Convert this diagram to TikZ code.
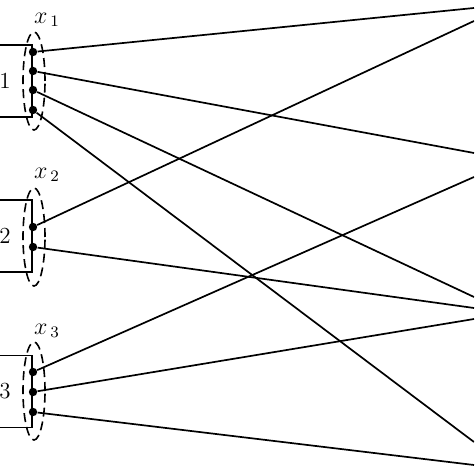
\documentclass[tikz,border=0pt]{standalone}
\usetikzlibrary{shapes.geometric}
\begin{document}
\begin{tikzpicture}[x=0.5pt,y=-0.5pt,
 font=\fontsize{11.5}{14}\selectfont,
 box/.style={draw, line width=0.85pt, minimum width=27pt, minimum height=36pt, inner sep=0pt},
 pin/.style={circle, fill, inner sep=0pt, minimum size=4.2pt},
 grp/.style={ellipse, draw, dash pattern=on 4.5pt off 2.5pt, line width=0.8pt, minimum width=11pt, minimum height=49pt, inner sep=0pt},
 wire/.style={line width=0.85pt},
 lab/.style={inner sep=0pt}]
\clip (0,0) rectangle (474,474);
% boxes
\node[box] (b1) at (5,81) {1};
\node[box] (b2) at (5,236) {2};
\node[box] (b3) at (5,391.5) {3};
% groups
\node[grp] (e1) at (34,81) {};
\node[grp] (e2) at (34,237) {};
\node[grp] (e3) at (34,391) {};
\node[lab] (l1) at (47,20) {$x_{\,1}$};
\node[lab] (l2) at (47,175) {$x_{\,2}$};
\node[lab] (l3) at (47,331) {$x_{\,3}$};
% pins
\node[pin] (p11) at (33,52) {};
\node[pin] (p12) at (33,71) {};
\node[pin] (p13) at (33,90) {};
\node[pin] (p14) at (33,110) {};
\node[pin] (p21) at (33,227) {};
\node[pin] (p22) at (33,247) {};
\node[pin] (p31) at (33,372) {};
\node[pin] (p32) at (33,392) {};
\node[pin] (p33) at (33,412) {};
% right ends
\coordinate (r1) at (474,8);
\coordinate (r2) at (474,153);
\coordinate (r3) at (474,297);
\coordinate (r4) at (474,442);
\coordinate (r5) at (474,21);
\coordinate (r6) at (474,308);
\coordinate (r7) at (474,177);
\coordinate (r8) at (474,319);
\coordinate (r9) at (474,465);
% wires
\draw[wire] (p11) -- (r1);
\draw[wire] (p12) -- (r2);
\draw[wire] (p13) -- (r3);
\draw[wire] (p14) -- (r4);
\draw[wire] (p21) -- (r5);
\draw[wire] (p22) -- (r6);
\draw[wire] (p31) -- (r7);
\draw[wire] (p32) -- (r8);
\draw[wire] (p33) -- (r9);
\end{tikzpicture}
\end{document}
